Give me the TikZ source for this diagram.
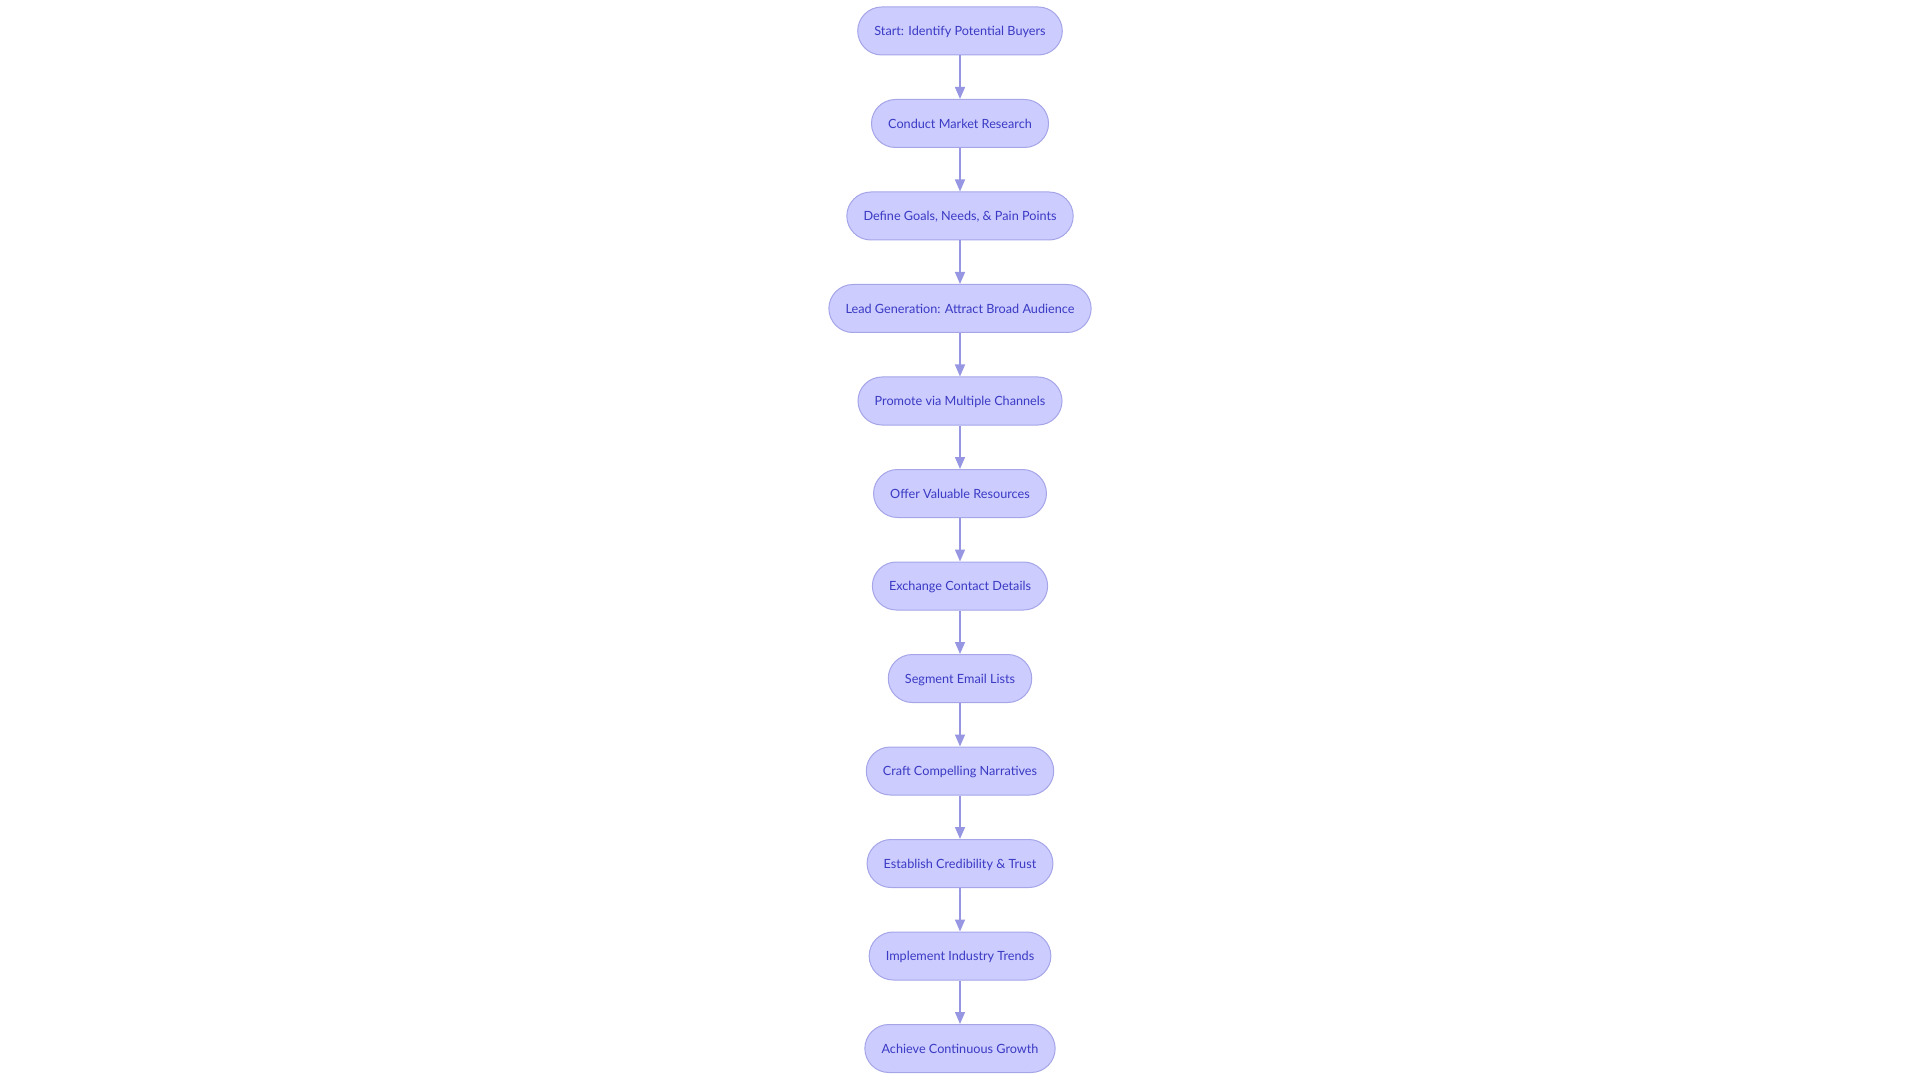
\documentclass[tikz,border=0pt]{standalone}
\usepackage{fontspec}
\setsansfont{Lato}
\usepackage{xcolor}
\usepackage{tikz}
\usetikzlibrary{arrows.meta}
\usetikzlibrary{positioning}

\definecolor{stepfill}{RGB}{204,204,255}
\definecolor{stepline}{RGB}{165,165,232}
\definecolor{steptext}{RGB}{58,58,196}
\definecolor{flowline}{RGB}{150,150,226}

\tikzset{
  stepnode/.style={draw=stepline, line width=0.75pt, fill=stepfill, rounded corners=18pt,
    minimum height=36pt, inner xsep=12.5pt, text height=6.9pt, text depth=0pt, text=steptext,
    font=\sffamily\fontsize{9.5pt}{11pt}\selectfont},
  flowarrow/.style={draw=flowline, line width=1.1pt, -{Triangle[width=7.5pt,length=9pt]}}
}

\begin{document}
\begin{tikzpicture}[x=0.75pt,y=0.75pt,yscale=-1,xscale=1]
  %set diagram to the full 1920 x 1080 frame
  \path[use as bounding box] (0,0) rectangle (1920,1080);

  % Step nodes
  \node [stepnode] (start)    at (960,31)     {Start: Identify Potential Buyers};
  \node [stepnode] (research) at (960,123.5)  {Conduct Market Research};
  \node [stepnode] (goals)    at (960,216)    {Define Goals, Needs, \& Pain Points};
  \node [stepnode] (leads)    at (960,308.5)  {Lead Generation: Attract Broad Audience};
  \node [stepnode] (promote)  at (960,401)    {Promote via Multiple Channels};
  \node [stepnode] (offer)    at (960,493.5)  {Offer Valuable Resources};
  \node [stepnode] (contact)  at (960,586)    {Exchange Contact Details};
  \node [stepnode] (segment)  at (960,678.5)  {Segment Email Lists};
  \node [stepnode] (craft)    at (960,771)    {Craft Compelling Narratives};
  \node [stepnode] (trust)    at (960,863.5)  {Establish Credibility \& Trust};
  \node [stepnode] (trends)   at (960,956)    {Implement Industry Trends};
  \node [stepnode] (growth)   at (960,1048.5) {Achieve Continuous Growth};

  % Connectors
  \draw [flowarrow] (start) -- (research);
  \draw [flowarrow] (research) -- (goals);
  \draw [flowarrow] (goals) -- (leads);
  \draw [flowarrow] (leads) -- (promote);
  \draw [flowarrow] (promote) -- (offer);
  \draw [flowarrow] (offer) -- (contact);
  \draw [flowarrow] (contact) -- (segment);
  \draw [flowarrow] (segment) -- (craft);
  \draw [flowarrow] (craft) -- (trust);
  \draw [flowarrow] (trust) -- (trends);
  \draw [flowarrow] (trends) -- (growth);

\end{tikzpicture}
\end{document}
